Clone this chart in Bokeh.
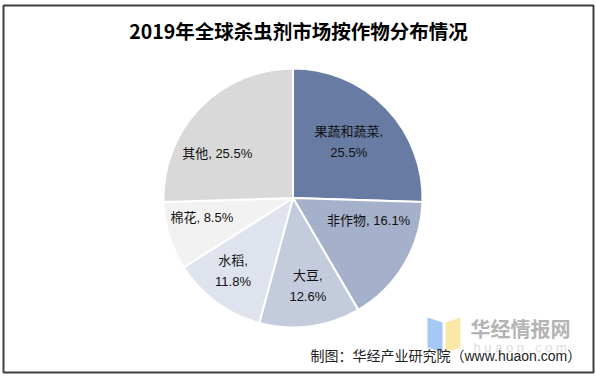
import numpy as np
from bokeh.plotting import figure
from bokeh.models import Range1d, ColumnDataSource
from bokeh.core.properties import value
from bokeh.embed import file_html
from bokeh.resources import INLINE

# ---- data ----
title = "2019年全球杀虫剂市场按作物分布情况"
categories = ["果蔬和蔬菜", "非作物", "大豆", "水稻", "棉花", "其他"]
shares = [25.5, 16.1, 12.6, 11.8, 8.5, 25.5]
source_note = "制图：华经产业研究院（www.huaon.com）"

# ---- styling / layout ----
colors = ["#687ba3", "#a5b0ca", "#c4cbdc", "#dfe3ed", "#f2f2f2", "#d9d9d9"]
label_wrap = [True, False, True, True, False, False]
label_rfrac = [0.61, 0.61, 0.69, 0.73, 0.72, 0.68]
label_dang = [-1, -14, -2, 3, 5, -13.5]   # degrees nudge of label placement

W, H = 596, 377
CX, CY, R = 292.5, H - 197.5, 129.5
CJK = "Liberation Sans, Noto Sans CJK SC"

p = figure(width=W, height=H, x_range=Range1d(0, W), y_range=Range1d(0, H),
           x_axis_type=None, y_axis_type=None, toolbar_location=None,
           output_backend="svg", min_border=0)
p.outline_line_color = None
p.grid.visible = False
p.background_fill_color = "white"
p.border_fill_color = "white"

# outer frame
p.quad(left=[3], right=[593], bottom=[H - 372], top=[H - 5],
       fill_color=None, line_color="#3f3f3f", line_width=2)

# pie
vals = np.array(shares, dtype=float)
frac = vals / vals.sum()
cum = np.concatenate([[0], np.cumsum(frac)])
theta0 = cum[:-1] * 2 * np.pi          # clockwise from top
theta1 = cum[1:] * 2 * np.pi
src = ColumnDataSource(dict(
    start=np.pi / 2 - theta0, end=np.pi / 2 - theta1, color=colors,
))
p.wedge(x=CX, y=CY, radius=R, start_angle="start", end_angle="end",
        direction="clock", fill_color="color", line_color="white",
        line_width=2, source=src)

# labels
mid = (theta0 + theta1) / 2 + np.radians(label_dang)
lr = np.array(label_rfrac) * R
lx = CX + lr * np.sin(mid)
ly = CY + lr * np.cos(mid)
texts = [f"{c},\n{v}%" if w else f"{c}, {v}%"
         for c, v, w in zip(categories, shares, label_wrap)]
p.text(x=lx, y=ly, text=texts, text_font=value(CJK), text_font_size="13px",
       text_align="center", text_baseline="middle", text_color="#111111",
       text_line_height=1.35)

# title
p.text(x=[298], y=[H - 30], text=[title], text_font=value("Noto Sans CJK SC"),
       text_font_size="19.5px", text_font_style="bold", text_align="center",
       text_baseline="middle", text_color="#000000")

# watermark logo
p.patches(xs=[[427, 442, 442, 427], [445, 460, 460, 445]],
          ys=[[H - 317, H - 322, H - 352, H - 347], [H - 322, H - 317, H - 347, H - 352]],
          fill_color=["#a6c8f4", "#fbe8a6"], line_color=None)
p.text(x=[470], y=[H - 328], text=["华经情报网"], text_font=value("Noto Sans CJK SC"),
       text_font_size="20px", text_font_style="bold", text_align="left",
       text_baseline="middle", text_color="#b4b4b4")
p.text(x=[473], y=[H - 347], text=["h u a o n . c o m"], text_font=value("Liberation Sans"),
       text_font_size="13px", text_align="left",
       text_baseline="middle", text_color="#dcdcdc")

# source note
p.text(x=[310], y=[H - 355], text=[source_note], text_font=value(CJK),
       text_font_size="14px", text_align="left", text_baseline="middle",
       text_color="#222222")

open("out.html", "w").write(file_html(p, INLINE))
